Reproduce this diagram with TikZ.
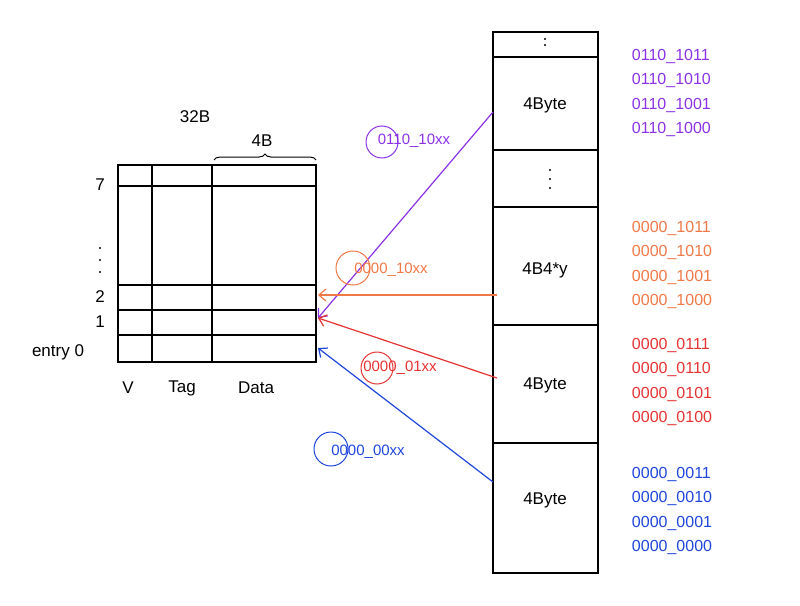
\documentclass[tikz,border=0pt]{standalone}
\usepackage{fontspec}
\setmainfont{Liberation Sans}
\usetikzlibrary{decorations.pathreplacing,arrows.meta}
\definecolor{cpur}{RGB}{140,50,230}
\definecolor{corg}{RGB}{240,120,70}
\definecolor{cred}{RGB}{230,50,50}
\definecolor{cblu}{RGB}{30,70,220}
\begin{document}
\begin{tikzpicture}[x=1pt,y=-1pt,line width=1.3pt,
  lbl/.style={font=\fontsize{17}{17}\selectfont},
  bin/.style={font=\fontsize{16}{24.5}\selectfont,align=left,anchor=west},
  tagl/.style={font=\fontsize{15}{15}\selectfont},
  vd/.style={fill,circle,inner sep=0pt,minimum size=2.2pt},
  arr/.style={-{Straight Barb[length=7pt,width=12pt]},line width=1.2pt}]
\useasboundingbox (0,0) rectangle (800,605);
% cache table
\draw (118,165) rectangle (316,362);
\draw (152,165) -- (152,362) (212,165) -- (212,362);
\foreach \y in {186,285,310,335} \draw (118,\y) -- (316,\y);
\node[lbl] (t7) at (100,185) {7};
\foreach \y/\n in {248/a,260/b,272/c} \node[vd] (tv\n) at (100,\y) {};
\node[lbl] (t2) at (100,297) {2};
\node[lbl] (t1) at (100,322) {1};
\node[lbl] (t0) at (58,352) {entry 0};
\node[lbl] (s32) at (195,117) {32B};
\draw[line width=1pt,decoration={brace,amplitude=6pt},decorate] (214,160) -- (316,160);
\node[lbl] (s4) at (262,141) {4B};
\node[lbl] (cv) at (128,388) {V};
\node[lbl] (ct) at (182,388) {Tag};
\node[lbl] (cd) at (256,388) {Data};
\coordinate (e2) at (318,295);
\coordinate (e1) at (318,318);
\coordinate (e0) at (318,348);
% memory
\draw (493,32) rectangle (598,573);
\foreach \y in {57,150,207,325,443} \draw (493,\y) -- (598,\y);
\foreach \y/\n in {39/a,45/b} \node[vd] (m0\n) at (545,\y) {};
\foreach \y/\n in {170/a,179/b,188/c} \node[vd] (m2\n) at (550,\y) {};
\node[lbl] (m1) at (545,105) {4Byte};
\node[lbl] (m3) at (545,270) {4B4*y};
\node[lbl] (m4) at (545,385) {4Byte};
\node[lbl] (m5) at (545,500) {4Byte};
\coordinate (p1) at (493,112);
\coordinate (p3) at (497,295);
\coordinate (p4) at (497,378);
\coordinate (p5) at (493,482);
\draw[arr,cpur] (p1) -- (e1);
\draw[arr,corg] (p3) -- (e2);
\draw[arr,cred] (p4) -- (e1);
\draw[arr,cblu] (p5) -- (e0);
% tags
\node[tagl,cpur] (a1) at (414,141) {0110\_10xx};
\draw[cpur,line width=1pt] (382,142) circle (16);
\node[tagl,corg] (a2) at (391,270) {0000\_10xx};
\draw[corg,line width=1pt] (353,268) circle (17);
\node[tagl,cred] (a3) at (400,368) {0000\_01xx};
\draw[cred,line width=1pt] (377,368) circle (16);
\node[tagl,cblu] (a4) at (368,452) {0000\_00xx};
\draw[cblu,line width=1pt] (331,449) circle (17);
% binary lists
\node[bin,cpur] (b1) at (628,93) {0110\_1011\\0110\_1010\\0110\_1001\\0110\_1000};
\node[bin,corg] (b2) at (628,265) {0000\_1011\\0000\_1010\\0000\_1001\\0000\_1000};
\node[bin,cred] (b3) at (628,382) {0000\_0111\\0000\_0110\\0000\_0101\\0000\_0100};
\node[bin,cblu] (b4) at (628,511) {0000\_0011\\0000\_0010\\0000\_0001\\0000\_0000};
\end{tikzpicture}
\end{document}
